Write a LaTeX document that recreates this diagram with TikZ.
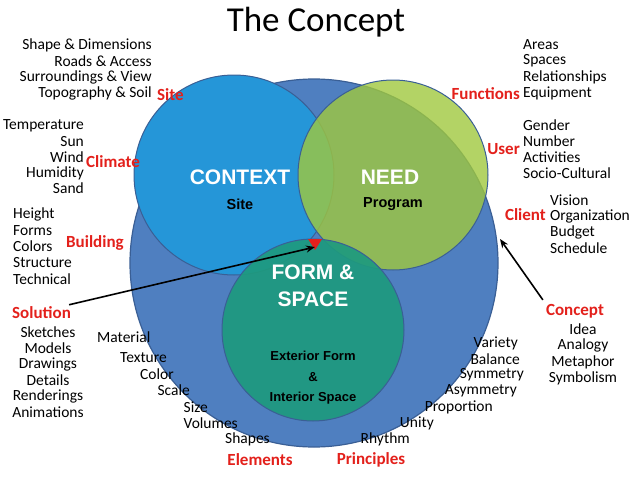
\documentclass[tikz,border=0pt]{standalone}
\usepackage{fontspec}
\setmainfont{Carlito}
\setsansfont{Liberation Sans}
\usetikzlibrary{arrows.meta}
\definecolor{big}{HTML}{4F7FC0}
\definecolor{bigb}{HTML}{3A5F95}
\definecolor{ctx}{HTML}{2596D8}
\definecolor{need}{HTML}{A0C83E}
\definecolor{form}{HTML}{1E9A7E}
\definecolor{rd}{HTML}{E3201B}
\tikzset{
 lab/.style={font=\fontsize{15.5}{15.5}\selectfont, inner sep=0pt},
 rlab/.style={font=\fontsize{17}{17}\selectfont\bfseries, text=rd, inner sep=0pt},
 big/.style={font=\fontsize{21}{21}\selectfont\bfseries\sffamily, text=white, inner sep=0pt},
 mid/.style={font=\fontsize{14.5}{14.5}\selectfont\bfseries\sffamily, inner sep=0pt},
 small/.style={font=\fontsize{13}{13}\selectfont\bfseries\sffamily, inner sep=0pt},
 arr/.style={-{Stealth[length=9pt,width=7pt]}, line width=1.6pt}
}
\begin{document}
\begin{tikzpicture}[x=1pt,y=-1pt]
\useasboundingbox (0,0) rectangle (638,479);
\node[font=\fontsize{35}{35}\selectfont] (title) at (316,22) {The Concept};
\draw[bigb, line width=1.2pt, fill=big] (314,263) circle (184);
\draw[bigb, line width=1pt, fill=ctx] (234,175) circle (100);
\draw[bigb, line width=1pt, fill=need, fill opacity=0.8] (393,175) circle (95);
\draw[bigb, line width=1pt, fill=form, fill opacity=0.92] (313,330) circle (91);
\coordinate (tri) at (315,247);
\fill[rd] (308,239) -- (322,239) -- (315,250) -- cycle;
\node[big] (ctxt) at (240,177) {CONTEXT};
\node[mid] (site2) at (240,204) {Site};
\node[big] (need) at (390,177) {NEED};
\node[mid] (prog) at (393,204) {Program};
\node[big] (fs1) at (313,272) {FORM \&};
\node[big] (fs2) at (313,299) {SPACE};
\node[small] (ef) at (313,356) {Exterior Form};
\node[small] (amp) at (313,377) {\&};
\node[small] (is) at (313,398) {Interior Space};
% left top
\foreach \t/\y [count=\i] in {Shape \& Dimensions/45,Roads \& Access/61,Surroundings \& View/77,Topography \& Soil/93}
 \node[lab, anchor=east] (s\i) at (152,\y) {\t};
\node[rlab, anchor=west] (site) at (157,95) {Site};
\foreach \t/\y [count=\i] in {Temperature/126,Sun/142,Wind/157,Humidity/173,Sand/188}
 \node[lab, anchor=east] (c\i) at (84,\y) {\t};
\node[rlab, anchor=west] (clim) at (86,162) {Climate};
\foreach \t/\y [count=\i] in {Height/214,Forms/231,Colors/246,Structure/263,Technical/279}
 \node[lab, anchor=west] (b\i) at (13,\y) {\t};
\node[rlab, anchor=west] (bld) at (66,243) {Building};
\node[rlab, anchor=west] (sol) at (12,313) {Solution};
\foreach \t/\y [count=\i] in {Sketches/332,Models/348,Drawings/364,Details/380,Renderings/396,Animations/412}
 \node[lab] (so\i) at (48,\y) {\t};
\node[lab, anchor=west] (mat) at (97,337) {Material};
\foreach \t/\x/\y [count=\i] in {Texture/167/358,Color/174/374,Scale/190/390,Size/208/407,Volumes/238/423,Shapes/270/439}
 \node[lab, anchor=east] (e\i) at (\x,\y) {\t};
\node[rlab] (elem) at (260,460) {Elements};
\node[rlab] (prin) at (371,460) {Principles};
\foreach \t/\x/\y [count=\i] in {Rhythm/410/439,Unity/434/423,Proportion/493/407,Asymmetry/517/391,Symmetry/524/375,Balance/520/359,Variety/518/343}
 \node[lab, anchor=east] (p\i) at (\x,\y) {\t};
% right
\node[rlab, anchor=east] (fun) at (520,94) {Functions};
\foreach \t/\y [count=\i] in {Areas/45,Spaces/61,Relationships/77,Equipment/93}
 \node[lab, anchor=west] (f\i) at (523,\y) {\t};
\node[rlab, anchor=east] (user) at (520,149) {User};
\foreach \t/\y [count=\i] in {Gender/125,Number/141,Activities/157,Socio-Cultural/173}
 \node[lab, anchor=west] (u\i) at (523,\y) {\t};
\node[rlab, anchor=east] (cli) at (546,215) {Client};
\foreach \t/\y [count=\i] in {Vision/200,Organization/216,Budget/232,Schedule/248}
 \node[lab, anchor=west] (cl\i) at (550,\y) {\t};
\node[rlab] (con) at (575,311) {Concept};
\foreach \t/\y [count=\i] in {Idea/329,Analogy/345,Metaphor/362,Symbolism/378}
 \node[lab] (co\i) at (583,\y) {\t};
\coordinate (ct) at (500,239);
\draw[arr] (sol.north east) ++(-2,-2) -- (tri);
\draw[arr] (con.north west) ++(-3,-4) -- (ct);
\end{tikzpicture}
\end{document}
